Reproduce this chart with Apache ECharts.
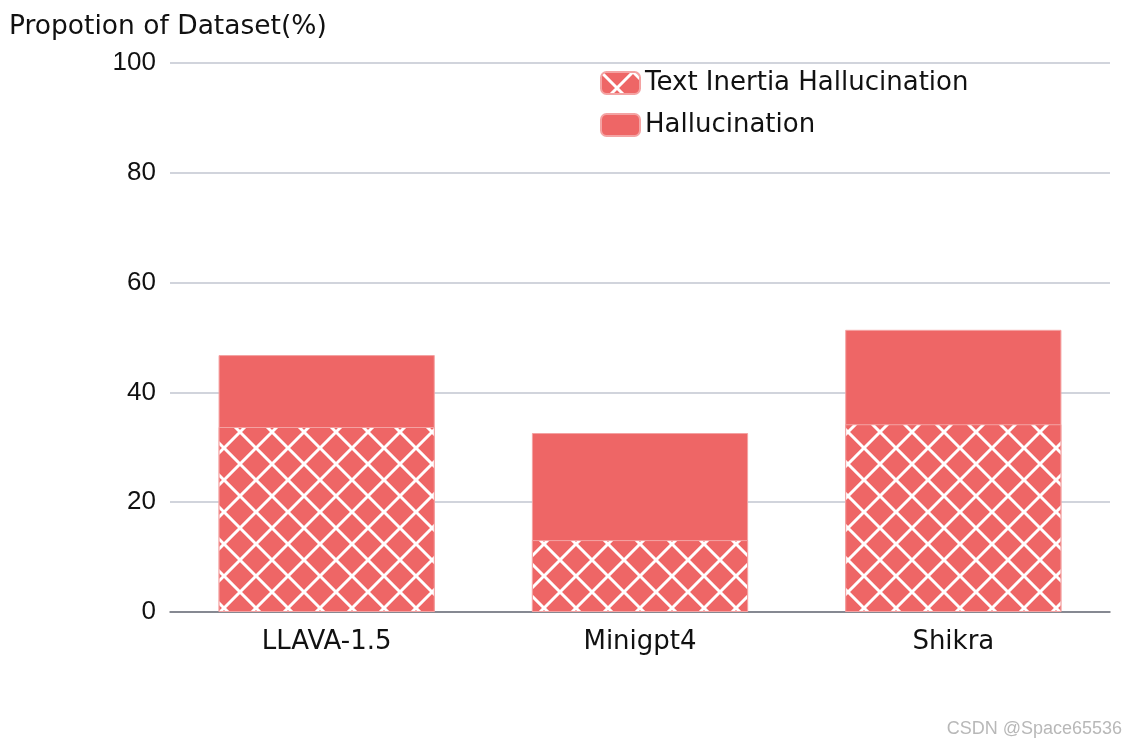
<!DOCTYPE html>
<html>
<head>
<meta charset="utf-8">
<title>Propotion of Dataset</title>
<script src="https://cdn.jsdelivr.net/npm/echarts@6/dist/echarts.min.js"></script>
<style>
    html, body { margin: 0; padding: 0; background: #fff; }
    #chart { width: 1126px; height: 750px; }
</style>
</head>
<body>
<div id="chart"></div>
<script>
// data
var models = ['LLAVA-1.5', 'Minigpt4', 'Shikra'];
var textInertia = [33.7, 13.1, 34.2];
var hallucination = [46.8, 32.6, 51.4];
var yTicks = [0, 20, 40, 60, 80, 100];

var RED = '#ee6666';
var FONT = 'DejaVu Sans, Noto Sans, sans-serif';

// cross hatch tile for the text inertia bars
function makeHatch() {
    var size = 32;
    var c = document.createElement('canvas');
    c.width = size;
    c.height = size;
    var ctx = c.getContext('2d');
    ctx.fillStyle = RED;
    ctx.fillRect(0, 0, size, size);
    ctx.strokeStyle = '#ffffff';
    ctx.lineWidth = 3;
    ctx.beginPath();
    for (var k = -1; k <= 1; k++) {
        ctx.moveTo(k * size, 0);
        ctx.lineTo(k * size + size, size);
        ctx.moveTo(k * size + size, 0);
        ctx.lineTo(k * size, size);
    }
    ctx.stroke();
    return c;
}

var myChart = echarts.init(document.getElementById('chart'));

var option = {
    animation: false,
    textStyle: { fontFamily: FONT },
    title: {
        text: 'Propotion of Dataset(%)',
        left: 4,
        top: 9,
        textStyle: { fontSize: 26.5, fontWeight: 'normal', color: '#111', fontFamily: FONT }
    },
    legend: {
        orient: 'vertical',
        left: 595,
        top: 65,
        icon: 'roundRect',
        itemWidth: 39,
        itemHeight: 22,
        itemGap: 16,
        textStyle: { fontSize: 26, color: '#111', fontFamily: FONT },
        data: ['Text Inertia Hallucination', 'Hallucination']
    },
    grid: { left: 170, right: 16, top: 63, bottom: 138 },
    xAxis: {
        type: 'category',
        data: models,
        axisLine: { lineStyle: { color: '#6e7079', width: 1.5 } },
        axisTick: { length: 6, lineStyle: { color: '#6e7079', width: 1.5 } },
        axisLabel: { fontSize: 26, color: '#111', margin: 17, fontFamily: FONT }
    },
    yAxis: {
        type: 'value',
        min: yTicks[0],
        max: yTicks[yTicks.length - 1],
        interval: 20,
        axisLine: { show: false },
        axisTick: { show: false },
        axisLabel: { fontSize: 26, color: '#111', margin: 14, fontFamily: 'Liberation Sans, Arial, sans-serif' },
        splitLine: { lineStyle: { color: '#c2c6d0', width: 1.5 } }
    },
    series: [
        {
            name: 'Text Inertia Hallucination',
            type: 'bar',
            data: textInertia,
            barGap: '-100%',
            barCategoryGap: '31%',
            z: 3,
            itemStyle: {
                color: { image: makeHatch(), repeat: 'repeat' },
                borderColor: '#f4a3a3',
                borderWidth: 1
            }
        },
        {
            name: 'Hallucination',
            type: 'bar',
            data: hallucination,
            barGap: '-100%',
            barCategoryGap: '31%',
            z: 2,
            itemStyle: {
                color: RED,
                borderColor: '#f4a3a3',
                borderWidth: 1
            }
        }
    ],
    graphic: [
        {
            type: 'text',
            right: 4,
            bottom: 12,
            style: {
                text: 'CSDN @Space65536',
                fontSize: 18,
                fill: '#b8b8b8',
                fontFamily: 'Liberation Sans, Arial, sans-serif'
            }
        }
    ]
};

myChart.setOption(option);
</script>
</body>
</html>
